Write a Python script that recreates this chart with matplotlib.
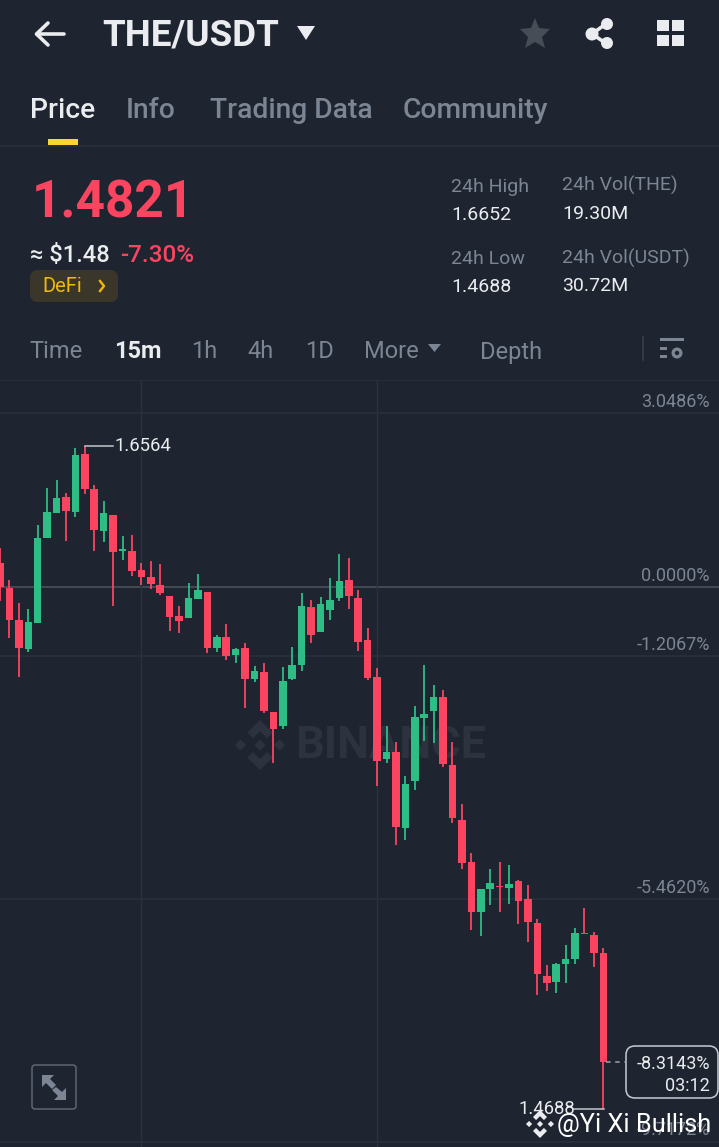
import matplotlib
matplotlib.use('Agg')
import matplotlib.pyplot as plt
from matplotlib.patches import FancyBboxPatch, Polygon, Circle, Rectangle

plt.rcParams['font.family'] = ['Roboto', 'DejaVu Sans']

# 15m candles
opens = [1.6234, 1.6163, 1.6071, 1.5990, 1.6064, 1.6305, 1.6375, 1.6419, 1.6377, 1.6541,
         1.6442, 1.6324, 1.6369, 1.6267, 1.6268, 1.6213, 1.6193, 1.6171, 1.6140, 1.6084,
         1.6078, 1.6132, 1.6150, 1.5993, 1.6024, 1.5973, 1.5992, 1.5905, 1.5924, 1.5812,
         1.5772, 1.5905, 1.5944, 1.6108, 1.6037, 1.6101, 1.6135, 1.6184, 1.6133, 1.6015,
         1.5910, 1.5678, 1.5699, 1.5484, 1.5617, 1.5793, 1.5815, 1.5853, 1.5662, 1.5506,
         1.5388, 1.5244, 1.5311, 1.5320, 1.5314, 1.5334, 1.5281, 1.5214, 1.5063, 1.5046,
         1.5097, 1.5112, 1.5186, 1.5180, 1.5128]
highs = [1.6275, 1.6185, 1.6119, 1.6104, 1.6341, 1.6445, 1.6468, 1.6430, 1.6558, 1.6564,
         1.6454, 1.6408, 1.6369, 1.6309, 1.6311, 1.6233, 1.6238, 1.6229, 1.6140, 1.6111,
         1.6175, 1.6201, 1.6150, 1.6029, 1.6060, 1.5992, 1.6007, 1.5941, 1.5949, 1.5812,
         1.5939, 1.5996, 1.6147, 1.6128, 1.6137, 1.6190, 1.6258, 1.6247, 1.6157, 1.6049,
         1.5935, 1.5771, 1.5726, 1.5630, 1.5828, 1.5943, 1.5887, 1.5873, 1.5726, 1.5550,
         1.5413, 1.5310, 1.5366, 1.5386, 1.5379, 1.5336, 1.5322, 1.5225, 1.5095, 1.5100,
         1.5151, 1.5200, 1.5257, 1.5189, 1.5143]
lows = [1.6126, 1.6022, 1.5911, 1.5982, 1.6064, 1.6305, 1.6375, 1.6296, 1.6364, 1.6427,
        1.6266, 1.6293, 1.6112, 1.6241, 1.6196, 1.6170, 1.6160, 1.6142, 1.6041, 1.6034,
        1.6078, 1.6132, 1.5979, 1.5982, 1.5959, 1.5951, 1.5823, 1.5897, 1.5809, 1.5666,
        1.5764, 1.5903, 1.5926, 1.6007, 1.6037, 1.6072, 1.6125, 1.6102, 1.5985, 1.5901,
        1.5602, 1.5668, 1.5436, 1.5450, 1.5591, 1.5730, 1.5724, 1.5656, 1.5496, 1.5368,
        1.5194, 1.5177, 1.5265, 1.5245, 1.5269, 1.5211, 1.5160, 1.5011, 1.5022, 1.5017,
        1.5045, 1.5098, 1.5182, 1.5089, 1.4688]
closes = [1.6164, 1.6072, 1.5992, 1.6066, 1.6305, 1.6378, 1.6416, 1.6380, 1.6539, 1.6441,
          1.6325, 1.6374, 1.6263, 1.6273, 1.6211, 1.6193, 1.6174, 1.6147, 1.6080, 1.6069,
          1.6134, 1.6156, 1.5992, 1.6024, 1.5970, 1.5990, 1.5905, 1.5926, 1.5815, 1.5763,
          1.5899, 1.5945, 1.6111, 1.6029, 1.6117, 1.6129, 1.6182, 1.6139, 1.6010, 1.5907,
          1.5673, 1.5697, 1.5487, 1.5608, 1.5798, 1.5806, 1.5853, 1.5665, 1.5510, 1.5383,
          1.5245, 1.5310, 1.5326, 1.5315, 1.5325, 1.5276, 1.5217, 1.5069, 1.5044, 1.5098,
          1.5112, 1.5187, 1.5182, 1.5128, 1.4821]

base_price = 1.6165
grid_pct = [3.0486, 0.0, -1.2067, -5.4620, -9.7172]
grid_labels = ['3.0486%', '0.0000%', '-1.2067%', '-5.4620%', '-9.7172%']

tabs = ['Price', 'Info', 'Trading Data', 'Community']
intervals = ['Time', '15m', '1h', '4h', '1D', 'More', 'Depth']

BG = '#1e2530'
RED = '#fb4560'
GREEN = '#2ebd85'
WHITE = '#eaecef'
GRAY = '#7c8594'
LINE = '#2b323d'

W, H = 719, 1147
fig = plt.figure(figsize=(W / 100, H / 100), dpi=100, facecolor=BG)


def pixel_axes(z):
    a = fig.add_axes([0, 0, 1, 1], zorder=z)
    a.set_xlim(0, W)
    a.set_ylim(H, 0)
    a.axis('off')
    a.patch.set_alpha(0)
    return a


back = pixel_axes(1)
ui = pixel_axes(3)

# chart axes, price on y, candle number on x
chart_top = 380
chart = fig.add_axes([0, 0, 1, (H - chart_top) / H], zorder=2)
chart.patch.set_alpha(0)
chart.axis('off')
px_price = base_price * 0.01 / 57.12
chart.set_xlim(0, W / 9.427)
chart.set_ylim(base_price - (H - 587) * px_price, base_price + (587 - chart_top) * px_price)

grid_prices = [base_price * (1 + p / 100) for p in grid_pct]
for p, pct in zip(grid_prices, grid_pct):
    chart.axhline(p, color='#474d57' if pct == 0 else LINE, lw=1.3 if pct == 0 else 1.1, zorder=1)
chart.axhline(chart.get_ylim()[1] - 0.0001, color=LINE, lw=1.1, zorder=1)
for x in [141, 377]:
    chart.axvline(x / 9.427, color=LINE, lw=1.0, zorder=1)

for i in range(len(opens)):
    c = GREEN if closes[i] >= opens[i] else RED
    chart.vlines(i, lows[i], highs[i], color=c, lw=1.3, zorder=3)
    bottom = min(opens[i], closes[i])
    chart.bar(i, abs(closes[i] - opens[i]), bottom=bottom, width=0.8, color=c, lw=0, zorder=4)

# header
ui.plot([37, 64], [34, 34], color=WHITE, lw=2.6, solid_capstyle='round')
ui.plot([48, 36.5, 48], [23, 34, 45], color=WHITE, lw=2.6, solid_capstyle='round', solid_joinstyle='round')
ui.text(102, 36, 'THE/USDT', color=WHITE, fontsize=26.5, fontweight='bold', va='center')
ui.add_patch(Polygon([(297, 26), (315, 26), (306, 40)], color=WHITE, lw=0))

star = [(535, 18), (539, 28), (550, 29), (542, 37), (545, 48), (535, 42), (525, 48), (528, 37), (520, 29), (531, 28)]
ui.add_patch(Polygon(star, color='#474d57', lw=0, joinstyle='round'))

ui.plot([607, 592, 607], [23, 34, 44], color=WHITE, lw=2.6)
for cx, cy, r in [(607, 24, 6), (592, 34, 6.5), (607, 43, 6)]:
    ui.add_patch(Circle((cx, cy), r, color=WHITE, lw=0))
for gx in [657, 672]:
    for gy in [20, 35]:
        ui.add_patch(Rectangle((gx, gy), 12, 11, color=WHITE, lw=0))

tab_x = [30, 126, 210, 403]
for i, (t, x) in enumerate(zip(tabs, tab_x)):
    ui.text(x, 111, t, color=WHITE if i == 0 else GRAY, fontsize=20.3, fontweight='medium', va='center')
ui.add_patch(Rectangle((48, 139), 30, 6, color='#fcd535', lw=0))
ui.plot([0, W], [145.5, 145.5], color=LINE, lw=1.1)

# price block
ui.text(32, 203, '1.4821', color=RED, fontsize=37, fontweight='bold', va='center')
ui.text(30, 256, '≈ $1.48', color=WHITE, fontsize=17, fontweight='medium', va='center')
ui.text(120, 256, '-7.30%', color=RED, fontsize=17.5, fontweight='medium', va='center')
ui.add_patch(FancyBboxPatch((36, 276), 76, 20, boxstyle='round,pad=6,rounding_size=8', fc='#3a372a', ec='none'))
ui.text(42, 287, 'DeFi', color='#f0b90b', fontsize=14.5, va='center')
ui.plot([100, 104, 100], [281, 286, 291], color='#f0b90b', lw=1.7)

ui.text(451, 187, '24h High', color=GRAY, fontsize=14, va='center')
ui.text(451, 215, '1.6652', color=WHITE, fontsize=14, va='center')
ui.text(451, 259, '24h Low', color=GRAY, fontsize=14, va='center')
ui.text(451, 287, '1.4688', color=WHITE, fontsize=14, va='center')
ui.text(562, 185, '24h Vol(THE)', color=GRAY, fontsize=14, va='center')
ui.text(562, 214, '19.30M', color=WHITE, fontsize=14, va='center')
ui.text(562, 258, '24h Vol(USDT)', color=GRAY, fontsize=14, va='center')
ui.text(562, 286, '30.72M', color=WHITE, fontsize=14, va='center')

# interval row
interval_x = [29, 114, 191, 247, 305, 364, 480]
for t, x in zip(intervals, interval_x):
    active = t == '15m'
    ui.text(x, 352, t, color=WHITE if active else GRAY, fontsize=17,
            fontweight='bold' if active else 'normal', va='center')
ui.add_patch(Polygon([(428, 344), (441, 344), (434.5, 352)], color=GRAY, lw=0))
ui.plot([643, 643], [337, 360], color='#3a414c', lw=1.1)
ui.add_patch(Rectangle((660, 338), 24, 3, color=GRAY, lw=0))
ui.add_patch(Rectangle((660, 347), 7, 3, color=GRAY, lw=0))
ui.add_patch(Rectangle((660, 355), 7, 3, color=GRAY, lw=0))
ui.add_patch(Circle((677, 353), 5.5, fc=GRAY, ec=GRAY, lw=0))
ui.add_patch(Circle((677, 353), 2.2, fc=BG, lw=0))

# axis labels, sitting above their lines
label_y = [402, 576, 645, 888]
for y, t in zip(label_y, grid_labels):
    ui.text(710, y, t, color=GRAY, fontsize=13, ha='right', va='center')
ui.text(710, 1130, grid_labels[4], color=GRAY, fontsize=13, ha='right', va='center')

# high and low markers
ui.plot([85, 113], [446, 446], color='#c4c7cc', lw=1.1)
ui.text(115, 446, '1.6564', color=WHITE, fontsize=13.3, va='center')
ui.plot([574, 604], [1108.5, 1108.5], color='#c4c7cc', lw=1.1)
ui.text(519, 1109, '1.4688', color=WHITE, fontsize=13.3, va='center')

# current price box
ui.plot([606, 626], [1061.5, 1061.5], color='#9aa0a8', lw=1.1, ls=(0, (3, 3)))
ui.add_patch(FancyBboxPatch((634, 1054), 76, 36, boxstyle='round,pad=8,rounding_size=9', fc=BG, ec='#c8ccd2', lw=1.1))
ui.text(710, 1064, '-8.3143%', color=WHITE, fontsize=13, ha='right', va='center')
ui.text(710, 1086, '03:12', color=WHITE, fontsize=13, ha='right', va='center')

# expand button
ui.add_patch(FancyBboxPatch((36, 1069), 36, 36, boxstyle='round,pad=4,rounding_size=3', fc=BG, ec='#5e6673', lw=1.1))
ui.add_patch(Polygon([(42, 1075), (54, 1075), (50, 1079), (56, 1085), (52, 1089), (46, 1083), (42, 1087)], color=GRAY, lw=0))
ui.add_patch(Polygon([(66, 1100), (54, 1100), (58, 1096), (52, 1090), (56, 1087), (62, 1092), (66, 1088)], color=GRAY, lw=0))


def binance_logo(a, cx, cy, s, color):
    # four chevrons and a middle diamond
    d = [(0, -.22), (.22, 0), (0, .22), (-.22, 0)]
    a.add_patch(Polygon([(cx + s * x, cy + s * y) for x, y in d], color=color, lw=0))
    for sx in (-1, 1):
        d = [(.78, -.22), (1, 0), (.78, .22), (.56, 0)]
        a.add_patch(Polygon([(cx + sx * s * x, cy + s * y) for x, y in d], color=color, lw=0))
    for sy in (-1, 1):
        d = [(0, 1), (.5, .5), (.28, .28), (0, .56), (-.28, .28), (-.5, .5)]
        a.add_patch(Polygon([(cx + s * x, cy + sy * s * y) for x, y in d], color=color, lw=0))


binance_logo(back, 260, 745, 25, '#2c323e')
back.text(295, 746, 'BINANCE', color='#2c323e', fontsize=32.5, fontweight='bold', va='center')

binance_logo(ui, 540, 1124, 14, WHITE)
ui.text(557, 1125, '@Yi Xi Bullish', color='white', fontsize=18.3, va='center')

fig.savefig('out.png', dpi=100, facecolor=BG)
